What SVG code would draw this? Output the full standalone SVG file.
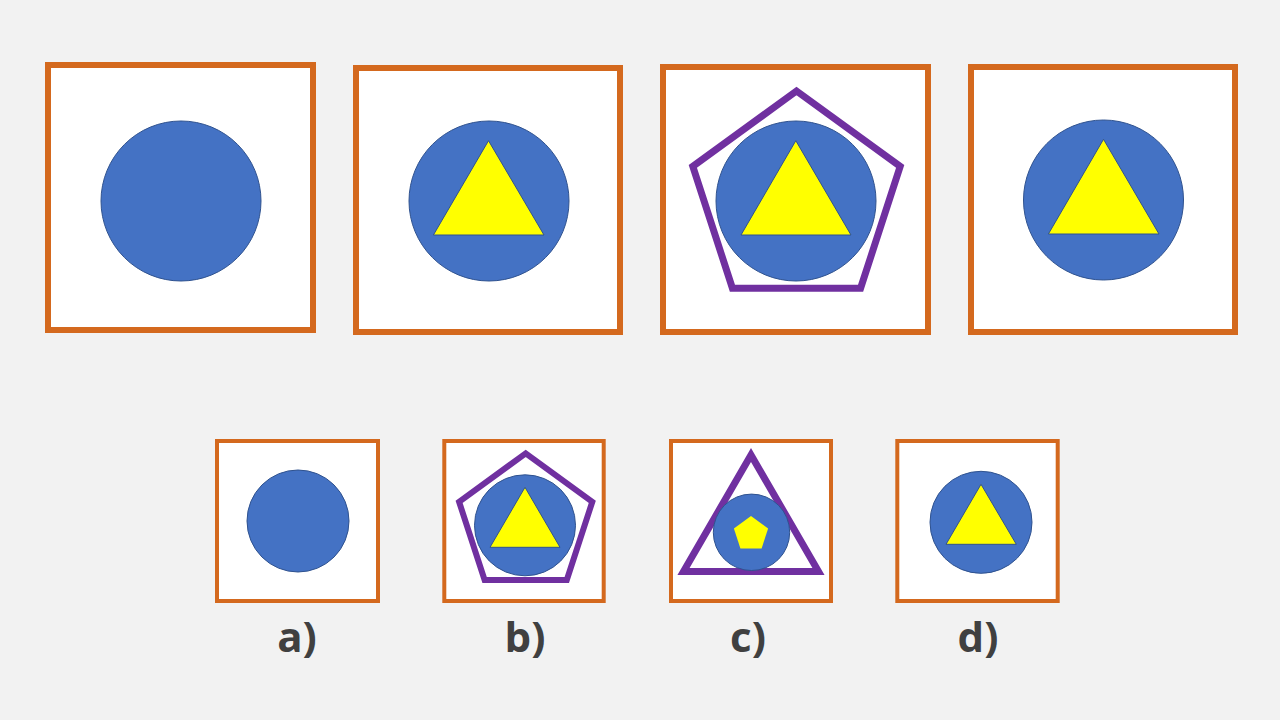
<svg xmlns="http://www.w3.org/2000/svg" width="1280" height="720" viewBox="0 0 1280 720">
<style>
.box{fill:#FFFFFF;stroke:#D4691E;}
.big{stroke-width:6;}
.small{stroke-width:4;}
.disc{fill:#4472C4;stroke:#2F528F;stroke-width:1;}
.tri{fill:#FFFF00;stroke:#2F528F;stroke-width:1;}
.penta{fill:#FFFF00;}
.outline{fill:none;stroke:#7030A0;stroke-miterlimit:10;}
.lbl{font-family:"Open Sans","Liberation Sans",sans-serif;font-weight:bold;font-size:42px;fill:#404040;text-anchor:middle;}
</style>
<rect width="1280" height="720" fill="#F2F2F2"/>
<g id="q1">
<rect class="box big" x="48" y="65" width="265" height="265"/>
<circle class="disc" cx="181" cy="201" r="80"/>
</g>
<g id="q2">
<rect class="box big" x="356" y="68" width="264" height="264"/>
<circle class="disc" cx="489" cy="201" r="80"/>
<polygon class="tri" points="488.5,140.7 433.4,235 544,235"/>
</g>
<g id="q3">
<rect class="box big" x="663" y="67" width="265" height="265"/>
<polygon class="outline" stroke-width="7" points="796.5,91 900.2,166.3 860.6,288.2 732.4,288.2 692.8,166.3"/>
<circle class="disc" cx="796" cy="201" r="80"/>
<polygon class="tri" points="795.8,140.7 741,235 851,235"/>
</g>
<g id="q4">
<rect class="box big" x="971" y="67" width="264" height="265"/>
<circle class="disc" cx="1103.5" cy="200" r="80"/>
<polygon class="tri" points="1103.5,139.3 1048.4,234 1159,234"/>
</g>
<g id="a">
<rect class="box small" x="217" y="441" width="161" height="160"/>
<circle class="disc" cx="298" cy="521" r="51"/>
<text class="lbl" x="297" y="652">a)</text>
</g>
<g id="b">
<rect class="box small" x="444.3" y="441" width="159.4" height="160"/>
<polygon class="outline" stroke-width="6" points="525.7,453.4 592.3,501.8 566.8,580 484.6,580 459.1,501.8"/>
<circle class="disc" cx="525" cy="525.3" r="50.5"/>
<polygon class="tri" points="525,487.3 490,547.3 560,547.3"/>
<text class="lbl" x="525" y="652">b)</text>
</g>
<g id="c">
<rect class="box small" x="671" y="441" width="160" height="160"/>
<polygon class="outline" stroke-width="7" points="751,455 683.5,571.5 818.5,571.5"/>
<circle class="disc" cx="751.5" cy="532.3" r="38.2"/>
<polygon class="penta" points="751,516 768.1,528.4 761.6,548.6 740.4,548.6 733.9,528.4"/>
<text class="lbl" x="748" y="652">c)</text>
</g>
<g id="d">
<rect class="box small" x="897.3" y="441" width="160.4" height="160"/>
<circle class="disc" cx="981" cy="522.3" r="51"/>
<polygon class="tri" points="981,484.3 946,544.3 1016.3,544.3"/>
<text class="lbl" x="978" y="652">d)</text>
</g>
<g id="connectors"/>
</svg>
